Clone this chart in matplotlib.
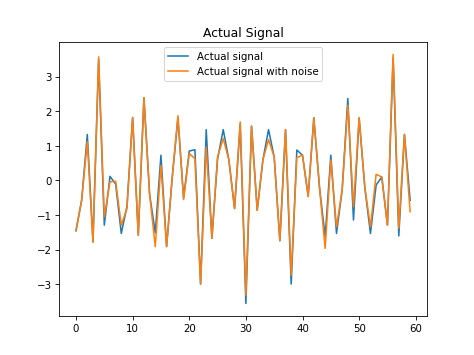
import numpy as np
import matplotlib
matplotlib.use("Agg")
import matplotlib.pyplot as plt

# sample index
t = np.arange(60)

actual = [-1.45, -0.57, 1.33, -1.75, 3.5, -1.29, 0.12, -0.1, -1.53, -0.75,
          1.82, -1.58, 2.39, -0.4, -1.51, 0.73, -1.91, 0.1, 1.8, -0.5,
          0.85, 0.89, -2.99, 1.47, -1.67, 0.62, 1.47, 0.59, -0.81, 1.62,
          -3.55, 1.57, -0.86, 0.59, 1.47, 0.68, -1.74, 1.47, -2.99, 0.88,
          0.73, -0.45, 1.81, -0.2, -1.62, 0.73, -1.53, -0.28, 2.37, -1.14,
          1.8, -0.2, -1.53, -0.13, 0.1, -1.29, 3.55, -1.6, 1.33, -0.57]

noisy = [-1.45, -0.57, 1.12, -1.79, 3.57, -1.05, -0.04, -0.02, -1.29, -0.81,
         1.82, -1.58, 2.39, -0.4, -1.91, 0.44, -1.91, 0.1, 1.87, -0.55,
         0.78, 0.63, -2.99, 0.97, -1.67, 0.68, 1.21, 0.59, -0.81, 1.69,
         -3.31, 1.57, -0.86, 0.59, 1.18, 0.68, -1.74, 1.47, -2.73, 0.66,
         0.73, -0.47, 1.81, -0.2, -1.96, 0.59, -1.34, -0.28, 2.17, -0.76,
         1.82, -0.2, -1.34, 0.18, 0.1, -1.29, 3.64, -1.38, 1.33, -0.9]

# default 6.4x4.8 figure, rendered small so it comes out ~474x355
plt.figure(figsize=(6.4, 4.8), dpi=74.1)
plt.plot(t, actual, label="Actual signal")
plt.plot(t, noisy, label="Actual signal with noise")
plt.title("Actual Signal")
plt.legend(loc="upper center")
plt.savefig("out.png", dpi=74.1)
